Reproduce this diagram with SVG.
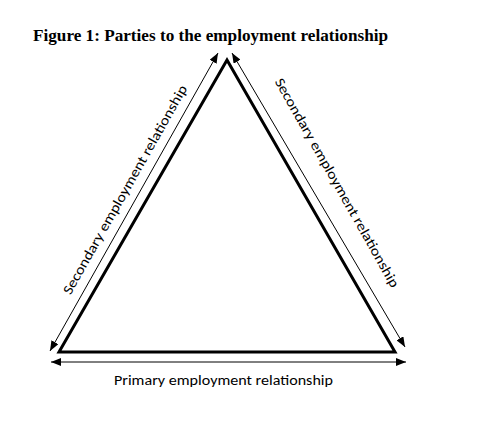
<svg xmlns="http://www.w3.org/2000/svg" width="489" height="421" viewBox="0 0 489 421">
<style>
.title{font-family:"Liberation Serif","Times New Roman",serif;font-weight:bold;font-size:17px;fill:#000}
.lbl{font-family:"Carlito","Liberation Sans",Arial,sans-serif;font-size:14px;fill:#000}
.tri{fill:none;stroke:#000;stroke-width:3;stroke-linejoin:miter}
.arr{fill:none;stroke:#000;stroke-width:1;marker-start:url(#ah);marker-end:url(#ah)}
</style>
<defs>
<marker id="ah" viewBox="0 0 10 8" refX="10" refY="4" markerWidth="10" markerHeight="8" markerUnits="userSpaceOnUse" orient="auto-start-reverse">
<path d="M0,0 L10,4 L0,8 Z" fill="#000"/>
</marker>
</defs>
<rect width="489" height="421" fill="#fff"/>
<text class="title" x="33" y="41" textLength="355" lengthAdjust="spacingAndGlyphs">Figure 1: Parties to the employment relationship</text>
<g id="triangle">
<polygon class="tri" points="227,60 395,352 59,352"/>
</g>
<g id="connectors">
<line class="arr" x1="50" y1="351" x2="218" y2="53"/>
<line class="arr" x1="232" y1="53" x2="405" y2="347"/>
<line class="arr" x1="51" y1="362" x2="406" y2="362"/>
</g>
<g id="labels">
<text class="lbl" text-anchor="middle" x="223.5" y="385" textLength="219" lengthAdjust="spacingAndGlyphs">Primary employment relationship</text>
<text class="lbl" text-anchor="middle" transform="translate(129,192) rotate(-60.5)" textLength="238" lengthAdjust="spacingAndGlyphs">Secondary employment relationship</text>
<text class="lbl" text-anchor="middle" transform="translate(333,185) rotate(60.5)" textLength="238" lengthAdjust="spacingAndGlyphs">Secondary employment relationship</text>
</g>
</svg>
